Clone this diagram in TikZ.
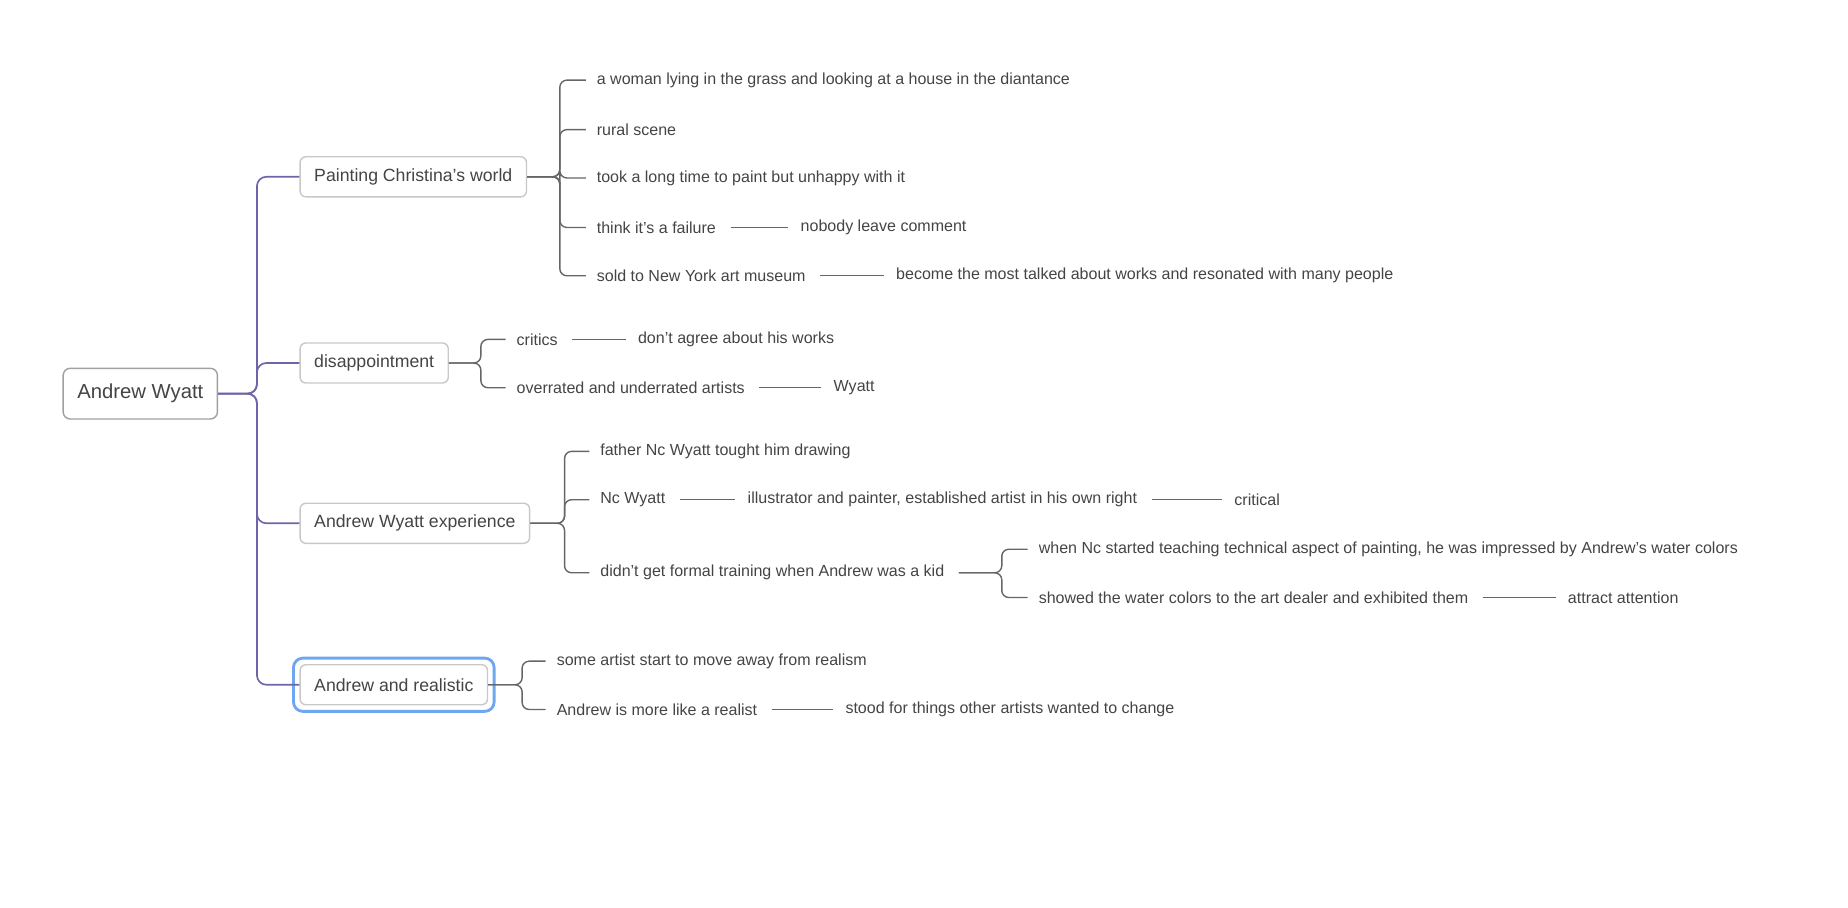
\documentclass[tikz,border=0pt]{standalone}
\usepackage{fontspec}
\setmainfont{Liberation Sans}
\usetikzlibrary{calc}
\definecolor{txt}{HTML}{444444}
\definecolor{purp}{HTML}{6E64A8}
\definecolor{gline}{HTML}{666666}
\definecolor{bx}{HTML}{C8C8C8}
\definecolor{sel}{HTML}{6FA6F0}
\begin{document}
\begin{tikzpicture}[x=0.5pt,y=-0.5pt,
  leaf/.style={anchor=west,inner sep=0pt,text=txt,font=\fontsize{6.8}{8}\selectfont},
  topic/.style={draw=bx,rounded corners=2.5pt,inner xsep=6pt,minimum height=17pt,text=txt,font=\fontsize{7.5}{9}\selectfont,line width=0.6pt},
  rootbox/.style={draw=bx!80!black,rounded corners=3pt,inner xsep=6pt,minimum height=21.5pt,text=txt,font=\fontsize{8.6}{10}\selectfont,line width=0.6pt},
  mainline/.style={draw=purp,line width=0.7pt,rounded corners=4pt},
  br/.style={draw=gline,line width=0.6pt,rounded corners=3pt},
  link/.style={draw=gline,line width=0.6pt,shorten <=6pt,shorten >=5pt}]
\useasboundingbox (0,0) rectangle (1568,770);
\node[rootbox,anchor=west] (root) at (53,334) {Andrew Wyatt};
\node[topic,anchor=west] (p) at (254,150) {Painting Christina's world};
\node[topic,anchor=west] (d) at (254,308) {disappointment};
\node[topic,anchor=west] (e) at (254,444) {Andrew Wyatt experience};
\node[topic,anchor=west] (r) at (254,581) {Andrew and realistic};
\draw[sel,line width=1.2pt,rounded corners=4pt] ([xshift=-2.5pt,yshift=2.5pt]r.north west) rectangle ([xshift=2.5pt,yshift=-2.5pt]r.south east);
\foreach \t in {p,d,e,r}{\draw[mainline] (root.east) -- (218,334) |- (\t.west);}
% Painting
\node[leaf] (p1) at (506,68) {a woman lying in the grass and looking at a house in the diantance};
\node[leaf] (p2) at (506,110) {rural scene};
\node[leaf] (p3) at (506,151) {took a long time to paint but unhappy with it};
\node[leaf] (p4) at (506,193) {think it's a failure};
\node[leaf] (p5) at (506,234) {sold to New York art museum};
\node[leaf] (p4a) at (679,193) {nobody leave comment};
\node[leaf] (p5a) at (760,234) {become the most talked about works and resonated with many people};
\foreach \l in {p1,p2,p3,p4,p5}{\draw[br] (p.east) -- (475,150) |- ([xshift=-4.5pt]\l.west);}
\draw[link] (p4.east) -- (p4a.west);
\draw[link] (p5.east) -- (p5a.west);
% disappointment
\node[leaf] (d1) at (438,288) {critics};
\node[leaf] (d2) at (438,329) {overrated and underrated artists};
\node[leaf] (d1a) at (541,288) {don't agree about his works};
\node[leaf] (d2a) at (707,329) {Wyatt};
\foreach \l in {d1,d2}{\draw[br] (d.east) -- (408,308) |- ([xshift=-4.5pt]\l.west);}
\draw[link] (d1.east) -- (d1a.west);
\draw[link] (d2.east) -- (d2a.west);
% experience
\node[leaf] (e1) at (509,383) {father Nc Wyatt tought him drawing};
\node[leaf] (e2) at (509,424) {Nc Wyatt};
\node[leaf] (e3) at (509,486) {didn't get formal training when Andrew was a kid};
\node[leaf] (e2a) at (634,424) {illustrator and painter, established artist in his own right};
\node[leaf] (e2b) at (1047,424) {critical};
\node[leaf] (e3a) at (881,466) {when Nc started teaching technical aspect of painting, he was impressed by Andrew's water colors};
\node[leaf] (e3b) at (881,507) {showed the water colors to the art dealer and exhibited them};
\node[leaf] (e3c) at (1330,507) {attract attention};
\foreach \l in {e1,e2,e3}{\draw[br] (e.east) -- (479,444) |- ([xshift=-4.5pt]\l.west);}
\draw[link] (e2.east) -- (e2a.west);
\draw[link] (e2a.east) -- (e2b.west);
\foreach \l in {e3a,e3b}{\draw[br] ([xshift=6pt]e3.east) -- (850,486) |- ([xshift=-4.5pt]\l.west);}
\draw[link] (e3b.east) -- (e3c.west);
% realistic
\node[leaf] (r1) at (472,561) {some artist start to move away from realism};
\node[leaf] (r2) at (472,602) {Andrew is more like a realist};
\node[leaf] (r2a) at (717,602) {stood for things other artists wanted to change};
\foreach \l in {r1,r2}{\draw[br] (r.east) -- (443,581) |- ([xshift=-4.5pt]\l.west);}
\draw[link] (r2.east) -- (r2a.west);
\end{tikzpicture}
\end{document}
